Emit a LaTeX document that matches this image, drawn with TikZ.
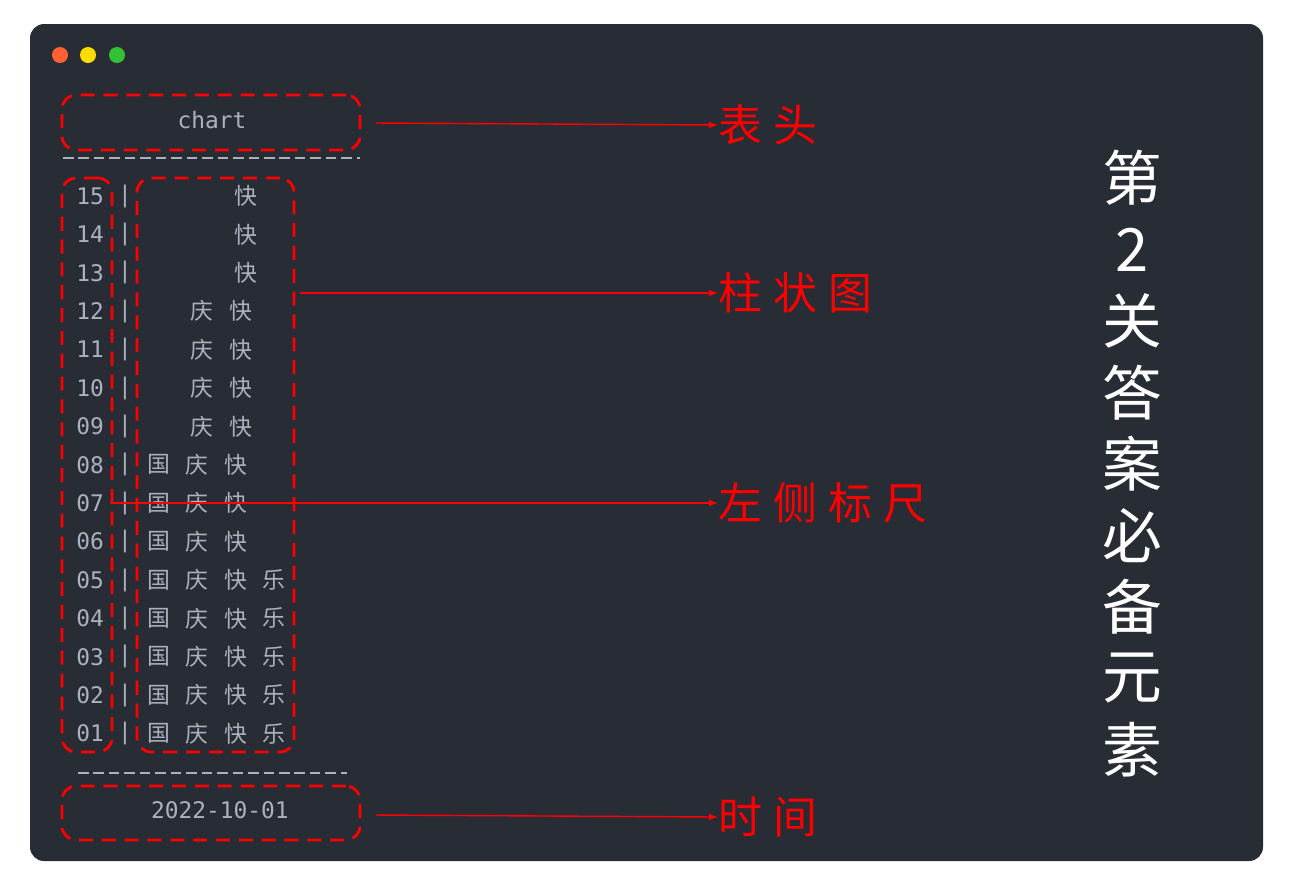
\documentclass[tikz,border=0pt]{standalone}
\usepackage{fontspec}
\setmonofont{DejaVu Sans Mono}
\newfontfamily\cjk{Noto Sans CJK SC}
\definecolor{winbg}{HTML}{282C34}
\definecolor{termtxt}{HTML}{ABB2BF}
\definecolor{markred}{HTML}{FF0000}
\tikzset{
  mark box/.style={draw=markred,line width=1.6pt,dash pattern=on 8pt off 5pt,rounded corners=8pt},
  term/.style={text=termtxt,font=\ttfamily\fontsize{13}{13}\selectfont,inner sep=0pt},
  termcjk/.style={text=termtxt,font=\cjk\fontsize{13}{13}\selectfont,inner sep=0pt},
  callout/.style={text=markred,font=\cjk\fontsize{25}{25}\selectfont,anchor=west,inner sep=0pt},
  pointer/.style={draw=markred,line width=0.8pt,-latex},
  sep line/.style={draw=termtxt,line width=1.2pt,dash pattern=on 6pt off 2.8pt},
}
\begin{document}
\begin{tikzpicture}[x=0.02cm,y=-0.02cm]
\useasboundingbox (0,0) rectangle (1294,894);
% window
\fill[winbg,rounded corners=8pt] (30,24) rectangle (1263,861);
\fill[red!55!orange!80!white] (60,55) circle (8);
\fill[yellow!80!orange] (88,55) circle (8);
\fill[green!70!black!80!white] (117,55) circle (8);

% header and footer
\node[term] (hd) at (212,120) {chart};
\node[term] (ft) at (220,810) {2022-10-01};
\node[mark box,minimum width=298*0.02cm,minimum height=55*0.02cm] (hdbox) at (211,122.5) {};
\node[mark box,minimum width=298*0.02cm,minimum height=54*0.02cm] (ftbox) at (211,813) {};
\coordinate (s1a) at (63,158); \coordinate (s1b) at (360,158);
\coordinate (s2a) at (78,773); \coordinate (s2b) at (347,773);
\draw[sep line] (s1a) -- (s1b);
\draw[sep line] (s2a) -- (s2b);

% ruler
\foreach \n [count=\i from 0] in {15,14,13,12,11,10,09,08,07,06,05,04,03,02,01} {
  \node[term] (r\n) at (90,196+38.4*\i) {\n};
  \node[term] (p\n) at (125,196+38.4*\i) {|};
}
% bars
\foreach \i in {0,1,2} \node[termcjk] (k\i) at (246,196+38.4*\i) {快};
\foreach \i in {3,...,6} {
  \node[termcjk] (q\i) at (202,196+38.4*\i) {庆};
  \node[termcjk] (k\i) at (241,196+38.4*\i) {快};
}
\foreach \i in {7,...,14} {
  \node[termcjk] (g\i) at (159,196+38.4*\i) {国};
  \node[termcjk] (q\i) at (197,196+38.4*\i) {庆};
  \node[termcjk] (k\i) at (236,196+38.4*\i) {快};
}
\foreach \i in {10,...,14} \node[termcjk] (l\i) at (274,196+38.4*\i) {乐};

\node[mark box,minimum width=50*0.02cm,minimum height=574*0.02cm] (rulerbox) at (87,465) {};
\node[mark box,minimum width=157*0.02cm,minimum height=574*0.02cm] (barbox) at (215.5,465) {};

% callouts
\node[callout] (t1) at (718,125) {表\hspace{0.25em}头};
\node[callout] (t2) at (718,293) {柱\hspace{0.25em}状\hspace{0.25em}图};
\node[callout] (t3) at (718,503) {左\hspace{0.25em}侧\hspace{0.25em}标\hspace{0.25em}尺};
\node[callout] (t4) at (718,817) {时\hspace{0.25em}间};
\coordinate (a1) at (376,123); \coordinate (a2) at (300,293);
\coordinate (a3) at (110,503); \coordinate (a4) at (376,815);
\draw[pointer] (a1) -- (t1.west);
\draw[pointer] (a2) -- (t2.west);
\draw[pointer] (a3) -- (t3.west);
\draw[pointer] (a4) -- (t4.west);

% vertical title
\foreach \c [count=\i from 0] in {第,2,关,答,案,必,备,元,素}
  \node[text=white,font=\cjk\fontsize{34}{34}\selectfont,inner sep=0pt] (v\i) at (1132,178+71.5*\i) {\c};
\end{tikzpicture}
\end{document}
